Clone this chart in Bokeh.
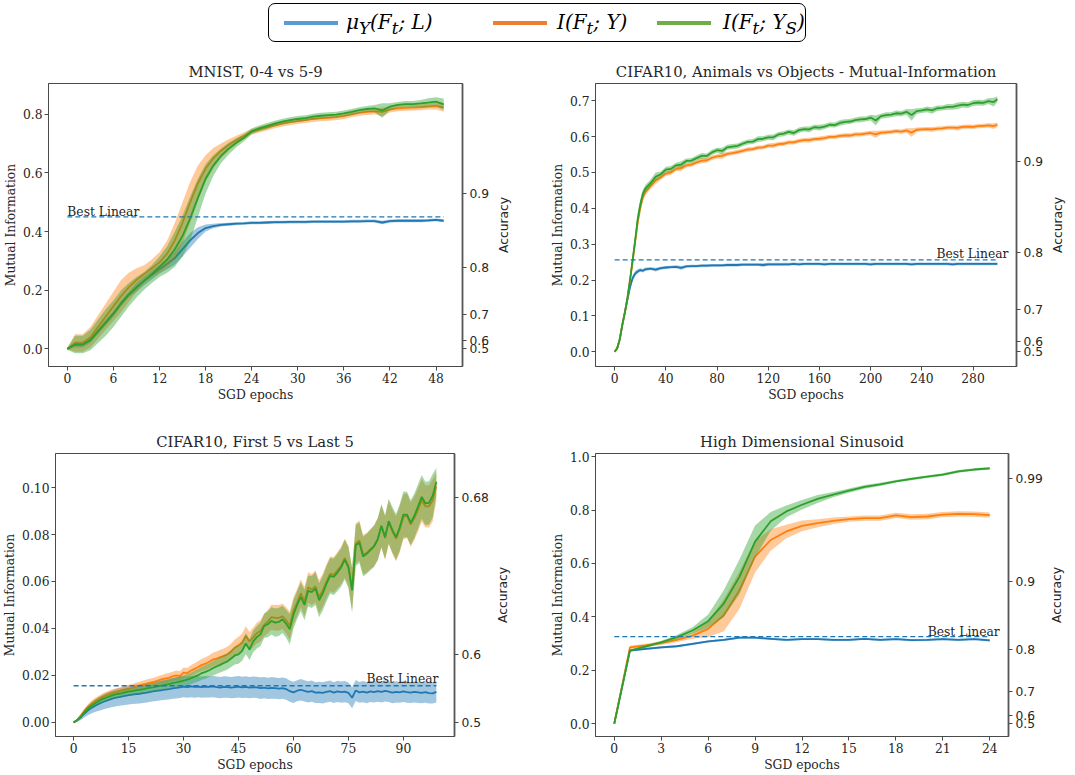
import math
import numpy as np
from bokeh.plotting import figure
from bokeh.models import (Range1d, FixedTicker, LinearAxis, CustomJSTickFormatter,
                          PrintfTickFormatter, Label, Div)
from bokeh.layouts import column, row
from bokeh.embed import file_html
from bokeh.resources import INLINE

# ---------------- data ----------------
legend_labels = ["μ<sub>Y</sub>(F<sub>t</sub>; L)", "I(F<sub>t</sub>; Y)", "I(F<sub>t</sub>; Y<sub>S</sub>)"]
legend_colors = ["#5B9BD5", "#ED7D31", "#70AD47"]

# Panel 1: MNIST, 0-4 vs 5-9
mnist_title = "MNIST, 0-4 vs 5-9"
mnist_epochs = list(range(50))
mnist_mu = [0.0, 0.015, 0.015, 0.03, 0.06, 0.09, 0.12, 0.155, 0.185, 0.21,
            0.232, 0.252, 0.272, 0.29, 0.31, 0.34, 0.37, 0.395, 0.412, 0.419,
            0.423, 0.425, 0.427, 0.428, 0.43, 0.43, 0.431, 0.432, 0.432, 0.433,
            0.433, 0.433, 0.434, 0.434, 0.434, 0.434, 0.434, 0.435, 0.435, 0.436,
            0.436, 0.431, 0.436, 0.437, 0.437, 0.437, 0.437, 0.438, 0.44, 0.437]
mnist_mu_std = [0.002, 0.01, 0.01, 0.01, 0.01, 0.01, 0.01, 0.01, 0.01, 0.015,
                0.015, 0.015, 0.015, 0.018, 0.022, 0.025, 0.025, 0.02, 0.012, 0.008,
                0.006, 0.005, 0.005, 0.005, 0.005, 0.005, 0.005, 0.005, 0.005, 0.005,
                0.005, 0.005, 0.005, 0.005, 0.005, 0.005, 0.005, 0.005, 0.005, 0.005,
                0.005, 0.006, 0.005, 0.005, 0.005, 0.005, 0.005, 0.005, 0.005, 0.005]
mnist_iy = [0.0, 0.02, 0.02, 0.04, 0.075, 0.11, 0.145, 0.18, 0.21, 0.235,
            0.255, 0.275, 0.295, 0.325, 0.37, 0.43, 0.5, 0.565, 0.615, 0.65,
            0.675, 0.695, 0.712, 0.727, 0.74, 0.748, 0.755, 0.762, 0.768, 0.773,
            0.777, 0.78, 0.784, 0.786, 0.788, 0.79, 0.794, 0.8, 0.805, 0.808,
            0.81, 0.808, 0.816, 0.82, 0.822, 0.823, 0.824, 0.826, 0.828, 0.824]
mnist_iy_std = [0.003, 0.03, 0.03, 0.035, 0.04, 0.045, 0.05, 0.055, 0.05, 0.04,
                0.03, 0.03, 0.035, 0.045, 0.06, 0.07, 0.07, 0.06, 0.045, 0.035,
                0.025, 0.02, 0.015, 0.012, 0.01, 0.01, 0.01, 0.01, 0.01, 0.01,
                0.01, 0.01, 0.01, 0.01, 0.01, 0.01, 0.01, 0.01, 0.01, 0.01,
                0.01, 0.015, 0.01, 0.01, 0.01, 0.01, 0.01, 0.01, 0.012, 0.015]
mnist_iys = [0.0, 0.015, 0.015, 0.03, 0.06, 0.09, 0.12, 0.155, 0.185, 0.21,
             0.232, 0.255, 0.28, 0.305, 0.34, 0.385, 0.445, 0.515, 0.58, 0.625,
             0.658, 0.683, 0.703, 0.72, 0.742, 0.752, 0.76, 0.768, 0.775, 0.78,
             0.784, 0.787, 0.792, 0.795, 0.797, 0.799, 0.803, 0.808, 0.814, 0.818,
             0.82, 0.813, 0.826, 0.832, 0.835, 0.835, 0.837, 0.84, 0.843, 0.834]
mnist_iys_std = [0.003, 0.03, 0.03, 0.035, 0.04, 0.045, 0.045, 0.045, 0.04, 0.035,
                 0.03, 0.03, 0.035, 0.045, 0.06, 0.07, 0.075, 0.065, 0.05, 0.035,
                 0.025, 0.02, 0.015, 0.012, 0.01, 0.01, 0.01, 0.01, 0.01, 0.01,
                 0.01, 0.01, 0.01, 0.01, 0.01, 0.01, 0.01, 0.01, 0.01, 0.01,
                 0.012, 0.025, 0.012, 0.01, 0.01, 0.01, 0.012, 0.015, 0.015, 0.02]
mnist_best_linear = 0.45
mnist_xticks = [0, 6, 12, 18, 24, 30, 36, 42, 48]
mnist_yticks = [0.0, 0.2, 0.4, 0.6, 0.8]
mnist_acc_ticks = [0.5, 0.6, 0.7, 0.8, 0.9]

# Panel 2: CIFAR10, Animals vs Objects
av_title = "CIFAR10, Animals vs Objects - Mutual-Information"
av_epochs = [0, 2, 4, 6, 8, 10, 12, 14, 16, 18, 20, 22, 24,
             28, 32, 36, 40, 44, 48, 52, 56, 60, 64, 68, 72, 76, 80, 84, 88, 92, 96,
             100, 104, 108, 112, 116, 120, 124, 128, 132, 136, 140, 144, 148, 152, 156,
             160, 164, 168, 172, 176, 180, 184, 188, 192, 196, 200, 204, 208, 212, 216,
             220, 224, 228, 232, 236, 240, 244, 248, 252, 256, 260, 264, 268, 272, 276,
             280, 284, 288, 292, 296, 299]
av_mu = [0.0, 0.01, 0.035, 0.075, 0.11, 0.145, 0.18, 0.205, 0.218, 0.224, 0.228, 0.226, 0.23,
         0.232, 0.229, 0.233, 0.235, 0.236, 0.237, 0.234, 0.238, 0.239, 0.239, 0.24, 0.24, 0.241,
         0.241, 0.241, 0.242, 0.242, 0.242, 0.243, 0.243, 0.243, 0.243, 0.242, 0.244, 0.244,
         0.244, 0.244, 0.244, 0.245, 0.244, 0.245, 0.245, 0.245, 0.245, 0.244, 0.245, 0.245,
         0.245, 0.245, 0.245, 0.245, 0.245, 0.245, 0.244, 0.245, 0.245, 0.245, 0.245, 0.245,
         0.245, 0.245, 0.244, 0.245, 0.245, 0.245, 0.245, 0.245, 0.245, 0.245, 0.244, 0.245,
         0.245, 0.245, 0.245, 0.245, 0.245, 0.245, 0.245, 0.245]
av_mu_std = [0.0, 0.003, 0.005, 0.006, 0.007, 0.008, 0.008, 0.008, 0.007, 0.006, 0.005, 0.005, 0.005,
             0.004, 0.005, 0.004, 0.004, 0.004, 0.004, 0.005, 0.004, 0.004, 0.004, 0.004, 0.004,
             0.004, 0.004, 0.004, 0.004, 0.004, 0.004, 0.004, 0.004, 0.004, 0.004, 0.005, 0.004,
             0.004, 0.004, 0.004, 0.004, 0.004, 0.004, 0.004, 0.004, 0.004, 0.004, 0.004, 0.004,
             0.004, 0.004, 0.004, 0.004, 0.004, 0.004, 0.004, 0.004, 0.004, 0.004, 0.004, 0.004,
             0.004, 0.004, 0.004, 0.004, 0.004, 0.004, 0.004, 0.004, 0.004, 0.004, 0.004, 0.004,
             0.004, 0.004, 0.004, 0.004, 0.004, 0.004, 0.004, 0.004, 0.004]
av_iy = [0.0, 0.01, 0.035, 0.075, 0.11, 0.15, 0.2, 0.25, 0.305, 0.36, 0.4, 0.43, 0.445,
         0.462, 0.478, 0.486, 0.497, 0.5, 0.51, 0.512, 0.52, 0.522, 0.528, 0.533, 0.534, 0.541,
         0.545, 0.546, 0.552, 0.554, 0.557, 0.56, 0.564, 0.565, 0.569, 0.57, 0.575, 0.575,
         0.579, 0.58, 0.584, 0.584, 0.588, 0.59, 0.59, 0.593, 0.594, 0.596, 0.599, 0.599,
         0.602, 0.603, 0.603, 0.606, 0.606, 0.608, 0.61, 0.606, 0.611, 0.612, 0.613, 0.615,
         0.614, 0.617, 0.611, 0.619, 0.62, 0.621, 0.62, 0.622, 0.623, 0.625, 0.625, 0.624,
         0.627, 0.628, 0.627, 0.629, 0.63, 0.631, 0.629, 0.633]
av_iy_std = [0.0, 0.003, 0.005, 0.007, 0.008, 0.01, 0.012, 0.014, 0.015, 0.014, 0.012, 0.01, 0.009,
             0.008, 0.01, 0.007, 0.006, 0.007, 0.006, 0.008, 0.006, 0.006, 0.006, 0.007, 0.006,
             0.006, 0.006, 0.008, 0.006, 0.006, 0.006, 0.006, 0.006, 0.006, 0.006, 0.006, 0.006,
             0.007, 0.006, 0.006, 0.006, 0.006, 0.006, 0.006, 0.007, 0.006, 0.006, 0.006, 0.006,
             0.006, 0.006, 0.006, 0.006, 0.006, 0.006, 0.006, 0.006, 0.01, 0.006, 0.006, 0.006,
             0.006, 0.006, 0.006, 0.012, 0.006, 0.006, 0.006, 0.007, 0.006, 0.006, 0.006, 0.006,
             0.007, 0.006, 0.006, 0.006, 0.006, 0.006, 0.006, 0.008, 0.006]
av_iys = [0.0, 0.01, 0.035, 0.075, 0.11, 0.15, 0.2, 0.255, 0.31, 0.37, 0.41, 0.44, 0.455,
          0.47, 0.488, 0.495, 0.508, 0.51, 0.52, 0.522, 0.532, 0.533, 0.54, 0.546, 0.546, 0.556,
          0.562, 0.56, 0.57, 0.572, 0.574, 0.58, 0.585, 0.586, 0.593, 0.594, 0.598, 0.598,
          0.606, 0.608, 0.613, 0.61, 0.618, 0.621, 0.62, 0.626, 0.625, 0.628, 0.633, 0.632,
          0.638, 0.641, 0.642, 0.646, 0.648, 0.649, 0.653, 0.645, 0.657, 0.66, 0.661, 0.665,
          0.664, 0.669, 0.66, 0.671, 0.673, 0.676, 0.673, 0.679, 0.68, 0.683, 0.683, 0.686,
          0.689, 0.688, 0.693, 0.695, 0.694, 0.699, 0.696, 0.704]
av_iys_std = [0.0, 0.003, 0.005, 0.007, 0.008, 0.01, 0.012, 0.014, 0.016, 0.016, 0.014, 0.012, 0.01,
              0.01, 0.012, 0.008, 0.008, 0.008, 0.007, 0.009, 0.007, 0.007, 0.007, 0.008, 0.007,
              0.007, 0.007, 0.009, 0.007, 0.007, 0.007, 0.007, 0.007, 0.007, 0.008, 0.007, 0.007,
              0.008, 0.007, 0.007, 0.007, 0.008, 0.007, 0.007, 0.008, 0.007, 0.008, 0.007, 0.007,
              0.007, 0.008, 0.007, 0.007, 0.007, 0.008, 0.007, 0.008, 0.014, 0.007, 0.008, 0.007,
              0.008, 0.007, 0.008, 0.016, 0.008, 0.007, 0.008, 0.009, 0.008, 0.007, 0.008, 0.008,
              0.009, 0.008, 0.008, 0.008, 0.008, 0.008, 0.008, 0.012, 0.008]
av_best_linear = 0.256
av_xticks = [0, 40, 80, 120, 160, 200, 240, 280]
av_yticks = [0.0, 0.1, 0.2, 0.3, 0.4, 0.5, 0.6, 0.7]
av_acc_ticks = [0.5, 0.6, 0.7, 0.8, 0.9]

# Panel 3: CIFAR10, First 5 vs Last 5
fl_title = "CIFAR10, First 5 vs Last 5"
fl_epochs = list(range(100))
fl_mu = [0.0, 0.001, 0.0022, 0.0038, 0.0052, 0.0063, 0.0072, 0.008, 0.0087, 0.0093,
         0.0098, 0.0103, 0.0107, 0.011, 0.0113, 0.0116, 0.0118, 0.012, 0.0122, 0.0125,
         0.0127, 0.013, 0.0133, 0.0135, 0.0137, 0.014, 0.0142, 0.0145, 0.0147, 0.0149,
         0.0152, 0.015, 0.0153, 0.0151, 0.0152, 0.015, 0.0152, 0.0151, 0.0153, 0.015,
         0.0148, 0.0151, 0.015, 0.0148, 0.015, 0.0152, 0.0149, 0.0151, 0.0148, 0.015,
         0.0149, 0.0146, 0.0148, 0.0145, 0.0147, 0.0146, 0.0144, 0.0146, 0.0142, 0.0133,
         0.0128, 0.0135, 0.0139, 0.0134, 0.013, 0.0133, 0.0127, 0.0128, 0.0126, 0.013,
         0.0133, 0.0127, 0.0132, 0.0129, 0.0131, 0.0126, 0.0105, 0.0136, 0.0128, 0.0131,
         0.0127, 0.0132, 0.0129, 0.0133, 0.013, 0.0134, 0.0131, 0.0127, 0.013, 0.0128,
         0.0132, 0.0129, 0.0127, 0.013, 0.0128, 0.0126, 0.0129, 0.0125, 0.0124, 0.013]
fl_mu_std = [0.0003, 0.0007, 0.0012, 0.0016, 0.002, 0.0024, 0.0027, 0.003, 0.0032, 0.0034,
             0.0035, 0.0036, 0.0037, 0.0038, 0.0039, 0.004, 0.004, 0.0041, 0.0041, 0.0042,
             0.0042, 0.0042, 0.0043, 0.0043, 0.0043, 0.0044, 0.0044, 0.0044, 0.0045, 0.0045,
             0.0045, 0.0045, 0.0046, 0.0046, 0.0045, 0.0045, 0.0046, 0.0045, 0.0046, 0.0045,
             0.0045, 0.0046, 0.0045, 0.0045, 0.0046, 0.0046, 0.0045, 0.0046, 0.0045, 0.0045,
             0.0045, 0.0046, 0.0045, 0.0045, 0.0046, 0.0045, 0.0045, 0.0045, 0.0046, 0.0045,
             0.0045, 0.0045, 0.0046, 0.0045, 0.0045, 0.0045, 0.0044, 0.0045, 0.0045, 0.0045,
             0.0045, 0.0044, 0.0045, 0.0045, 0.0045, 0.0044, 0.0045, 0.0045, 0.0044, 0.0045,
             0.0045, 0.0045, 0.0044, 0.0045, 0.0045, 0.0045, 0.0044, 0.0045, 0.0045, 0.0044,
             0.0045, 0.0045, 0.0044, 0.0045, 0.0045, 0.0044, 0.0045, 0.0044, 0.0044, 0.0045]
fl_iy = [0.0, 0.001, 0.003, 0.005, 0.0068, 0.0082, 0.0093, 0.0102, 0.011, 0.0117,
         0.0123, 0.0128, 0.0132, 0.0136, 0.014, 0.0144, 0.0148, 0.0152, 0.0157, 0.0161,
         0.0165, 0.0169, 0.0173, 0.0178, 0.0183, 0.0187, 0.019, 0.0196, 0.02, 0.0197,
         0.0212, 0.021, 0.022, 0.0228, 0.0236, 0.0245, 0.025, 0.0258, 0.0268, 0.0272,
         0.0278, 0.0283, 0.029, 0.0302, 0.0318, 0.0328, 0.034, 0.0368, 0.0345, 0.0362,
         0.038, 0.039, 0.0415, 0.043, 0.0448, 0.0445, 0.0445, 0.0452, 0.0435, 0.0412,
         0.0475, 0.051, 0.055, 0.0515, 0.0575, 0.0565, 0.058, 0.0535, 0.0562, 0.06,
         0.0632, 0.0628, 0.0648, 0.0668, 0.07, 0.0665, 0.0568, 0.0762, 0.0775, 0.0715,
         0.0722, 0.0738, 0.0752, 0.078, 0.0835, 0.0785, 0.0852, 0.0812, 0.0782, 0.0822,
         0.0875, 0.088, 0.0842, 0.087, 0.0905, 0.0945, 0.092, 0.092, 0.0945, 0.1005]
fl_iy_std = [0.0003, 0.0006, 0.0008, 0.001, 0.0011, 0.0012, 0.0013, 0.0013, 0.0014, 0.0014,
             0.0015, 0.0015, 0.0015, 0.0016, 0.0016, 0.0016, 0.0016, 0.0017, 0.0017, 0.0017,
             0.0018, 0.0018, 0.0018, 0.0019, 0.0019, 0.002, 0.002, 0.002, 0.0021, 0.0021,
             0.0022, 0.0022, 0.0023, 0.0024, 0.0025, 0.0026, 0.0027, 0.0028, 0.0029, 0.003,
             0.0031, 0.0032, 0.0033, 0.0034, 0.0035, 0.0037, 0.0039, 0.0041, 0.004, 0.0042,
             0.0044, 0.0046, 0.0048, 0.005, 0.0053, 0.0055, 0.0055, 0.0054, 0.0056, 0.006,
             0.0058, 0.0058, 0.006, 0.0062, 0.0064, 0.0066, 0.0068, 0.007, 0.0071, 0.0073,
             0.0074, 0.0076, 0.0078, 0.008, 0.0083, 0.0086, 0.009, 0.0086, 0.0085, 0.0084,
             0.0084, 0.0085, 0.0087, 0.0088, 0.009, 0.0092, 0.0093, 0.0095, 0.0096, 0.0097,
             0.0096, 0.0095, 0.0094, 0.0093, 0.0092, 0.0091, 0.009, 0.009, 0.009, 0.006]
fl_iys = [0.0, 0.001, 0.0025, 0.0045, 0.006, 0.0072, 0.0083, 0.0092, 0.01, 0.0106,
          0.0112, 0.0117, 0.0121, 0.0124, 0.0128, 0.0131, 0.0133, 0.0136, 0.0139, 0.0142,
          0.0145, 0.0148, 0.015, 0.0153, 0.0157, 0.016, 0.0163, 0.0167, 0.017, 0.0174,
          0.0178, 0.0182, 0.0188, 0.0195, 0.0201, 0.021, 0.0215, 0.0222, 0.0231, 0.0238,
          0.0245, 0.0253, 0.026, 0.0272, 0.0285, 0.029, 0.0305, 0.0336, 0.031, 0.0345,
          0.0363, 0.0375, 0.0411, 0.0418, 0.0432, 0.0425, 0.0428, 0.0439, 0.042, 0.0397,
          0.046, 0.05, 0.0535, 0.05, 0.056, 0.0555, 0.057, 0.052, 0.055, 0.059,
          0.0624, 0.062, 0.0638, 0.066, 0.0693, 0.066, 0.0562, 0.0754, 0.0765, 0.0706,
          0.0718, 0.0734, 0.075, 0.078, 0.0837, 0.0789, 0.0857, 0.082, 0.0789, 0.083,
          0.0885, 0.0885, 0.085, 0.088, 0.092, 0.096, 0.0933, 0.0935, 0.0965, 0.1025]
fl_iys_std = [0.0003, 0.0006, 0.0008, 0.001, 0.0011, 0.0012, 0.0013, 0.0013, 0.0014, 0.0014,
              0.0015, 0.0015, 0.0015, 0.0016, 0.0016, 0.0016, 0.0016, 0.0017, 0.0017, 0.0017,
              0.0018, 0.0018, 0.0018, 0.0019, 0.0019, 0.002, 0.002, 0.0021, 0.0022, 0.0022,
              0.0023, 0.0024, 0.0025, 0.0026, 0.0027, 0.0028, 0.0029, 0.003, 0.0031, 0.0032,
              0.0033, 0.0034, 0.0035, 0.0036, 0.0038, 0.004, 0.0042, 0.0045, 0.0044, 0.0046,
              0.0048, 0.005, 0.0052, 0.0055, 0.0058, 0.006, 0.006, 0.0058, 0.006, 0.0065,
              0.006, 0.006, 0.0062, 0.0065, 0.0066, 0.0068, 0.007, 0.0072, 0.0073, 0.0075,
              0.0076, 0.0078, 0.008, 0.0082, 0.0085, 0.0088, 0.0095, 0.0088, 0.0086, 0.0085,
              0.0085, 0.0086, 0.0088, 0.009, 0.0092, 0.0094, 0.0095, 0.0097, 0.0098, 0.01,
              0.0098, 0.0097, 0.0096, 0.0095, 0.0094, 0.0093, 0.0092, 0.0092, 0.0093, 0.0058]
fl_best_linear = 0.0156
fl_xticks = [0, 15, 30, 45, 60, 75, 90]
fl_yticks = [0.0, 0.02, 0.04, 0.06, 0.08, 0.10]
fl_acc_ticks = [0.5, 0.6, 0.68]

# Panel 4: High Dimensional Sinusoid
sin_title = "High Dimensional Sinusoid"
sin_epochs = list(range(25))
sin_mu = [0.0, 0.274, 0.28, 0.286, 0.29, 0.299, 0.308, 0.314, 0.322, 0.322, 0.318, 0.314, 0.317,
          0.317, 0.314, 0.314, 0.318, 0.314, 0.317, 0.313, 0.314, 0.317, 0.314, 0.317, 0.312]
sin_mu_std = [0.0, 0.004, 0.004, 0.004, 0.004, 0.004, 0.004, 0.004, 0.004, 0.004, 0.004, 0.004,
              0.004, 0.004, 0.004, 0.004, 0.004, 0.004, 0.004, 0.004, 0.004, 0.004, 0.004, 0.004, 0.004]
sin_iy = [0.0, 0.286, 0.293, 0.302, 0.314, 0.33, 0.355, 0.406, 0.5, 0.626, 0.688, 0.72, 0.741,
          0.751, 0.76, 0.766, 0.77, 0.77, 0.78, 0.774, 0.776, 0.783, 0.786, 0.785, 0.781]
sin_iy_std = [0.0, 0.006, 0.006, 0.007, 0.008, 0.012, 0.03, 0.06, 0.07, 0.06, 0.04, 0.025, 0.02,
              0.015, 0.012, 0.01, 0.01, 0.01, 0.01, 0.01, 0.01, 0.01, 0.01, 0.01, 0.01]
sin_iys = [0.0, 0.274, 0.289, 0.305, 0.324, 0.349, 0.384, 0.45, 0.55, 0.682, 0.758, 0.795, 0.82,
           0.842, 0.858, 0.873, 0.887, 0.896, 0.908, 0.917, 0.925, 0.933, 0.945, 0.952, 0.956]
sin_iys_std = [0.0, 0.004, 0.005, 0.006, 0.008, 0.012, 0.025, 0.05, 0.065, 0.06, 0.035, 0.022, 0.018,
               0.015, 0.01, 0.008, 0.007, 0.006, 0.005, 0.005, 0.005, 0.005, 0.005, 0.005, 0.005]
sin_best_linear = 0.326
sin_xticks = [0, 3, 6, 9, 12, 15, 18, 21, 24]
sin_yticks = [0.0, 0.2, 0.4, 0.6, 0.8, 1.0]
sin_acc_ticks = [0.5, 0.6, 0.7, 0.8, 0.9, 0.99]

# ---------------- styling ----------------
SERIF = "DejaVu Serif"
SANS = "DejaVu Sans"
TXT = "#262626"
SPINE = "#4a4a4a"
COLORS = ["#1f77b4", "#ff7f0e", "#2ca02c"]
FS = "12.3px"


def acc_to_mi(a):
    # binary classifier accuracy -> mutual information (1 - binary entropy)
    return 1.0 + a * math.log2(a) + (1 - a) * math.log2(1 - a)


def make_panel(title, x, means, stds, best, xr, yr, xticks, yticks, yfmt, acc_ticks,
               width, height, borders, bl_align, bl_xoff, bl_yoff):
    p = figure(width=width, height=height, x_range=Range1d(*xr), y_range=Range1d(*yr),
               output_backend="svg", toolbar_location=None,
               min_border_left=borders[0], min_border_right=borders[1],
               min_border_top=borders[2], min_border_bottom=borders[3])
    p.title.text = title
    p.title.text_font = SERIF
    p.title.text_font_size = "14.8px"
    p.title.text_font_style = "normal"
    p.title.text_color = TXT
    p.title.align = "center"
    p.title.standoff = 8
    p.grid.visible = False
    p.outline_line_color = SPINE
    p.outline_line_width = 1
    p.background_fill_color = "white"
    p.border_fill_color = "white"

    xa = np.array(x, dtype=float)
    for m, s, c in zip(means, stds, COLORS):
        m = np.array(m)
        s = np.array(s)
        p.varea(x=xa, y1=m - s, y2=m + s, fill_color=c, fill_alpha=0.42)
        p.line(xa, m, line_color=c, line_width=1.8)

    p.line([xa[0], xa[-1]], [best, best], line_color=COLORS[0], line_width=1.3,
           line_dash="5 3")
    lx = xa[0] if bl_align == "left" else xa[-1]
    p.add_layout(Label(x=lx, y=best, text="Best Linear", text_font=SERIF,
                       text_font_size=FS, text_color=TXT, text_align=bl_align,
                       text_baseline="alphabetic", x_offset=bl_xoff, y_offset=bl_yoff))

    for ax in (p.xaxis[0], p.yaxis[0]):
        ax.major_label_text_font = SERIF
        ax.major_label_text_font_size = FS
        ax.major_label_text_color = TXT
        ax.axis_label_text_font = SERIF
        ax.axis_label_text_font_size = FS
        ax.axis_label_text_font_style = "normal"
        ax.axis_label_text_color = TXT
        ax.axis_line_color = SPINE
        ax.major_tick_line_color = SPINE
        ax.major_tick_out = 4
        ax.major_tick_in = 0
        ax.minor_tick_out = 0
        ax.minor_tick_in = 0
        ax.major_label_standoff = 2
        ax.axis_label_standoff = 2
    p.xaxis[0].ticker = FixedTicker(ticks=xticks)
    p.xaxis[0].axis_label = "SGD epochs"
    p.yaxis[0].ticker = FixedTicker(ticks=yticks)
    p.yaxis[0].formatter = PrintfTickFormatter(format=yfmt)
    p.yaxis[0].axis_label = "Mutual Information"

    pos = [acc_to_mi(a) for a in acc_ticks]
    labels = [("%g" % a) for a in acc_ticks]
    fmt = CustomJSTickFormatter(args=dict(pos=pos, labels=labels), code="""
        let best = 0;
        for (let i = 0; i < pos.length; i++) {
            if (Math.abs(pos[i] - tick) < Math.abs(pos[best] - tick)) { best = i; }
        }
        return labels[best];
    """)
    ra = LinearAxis(ticker=FixedTicker(ticks=pos), formatter=fmt)
    ra.major_label_text_font = SANS
    ra.major_label_text_font_size = FS
    ra.major_label_text_color = TXT
    ra.axis_line_color = "#555555"
    ra.axis_line_width = 1.8
    ra.major_tick_line_color = SPINE
    ra.major_tick_out = 4
    ra.major_tick_in = 0
    ra.minor_tick_out = 0
    ra.minor_tick_in = 0
    ra.major_label_standoff = 3
    p.add_layout(ra, "right")
    return p


def make_acc_label(width, height, top, bottom, cx):
    # narrow strip holding the twin axis title "Accuracy", read bottom-to-top
    q = figure(width=width, height=height, x_range=Range1d(0, width), y_range=Range1d(0, 1),
               output_backend="svg", toolbar_location=None,
               x_axis_location=None, y_axis_location=None,
               min_border_left=0, min_border_right=0,
               min_border_top=top, min_border_bottom=bottom)
    q.grid.visible = False
    q.outline_line_color = None
    q.background_fill_color = "white"
    q.border_fill_color = "white"
    q.add_layout(Label(x=cx, y=0.5, text="Accuracy", text_font=SANS, text_font_size=FS,
                       text_color=TXT, text_align="center", text_baseline="middle",
                       angle=math.pi / 2))
    return q


H1, H2 = 365, 365

p1 = make_panel(mnist_title, mnist_epochs, [mnist_mu, mnist_iy, mnist_iys],
                [mnist_mu_std, mnist_iy_std, mnist_iys_std], mnist_best_linear,
                (-2.45, 51.45), (-0.06, 0.905), mnist_xticks, mnist_yticks, "%.1f",
                mnist_acc_ticks, 493, H1, (45, 31, 39, 43), "left", 0, 5)
a1 = make_acc_label(44, H1, 39, 43, 10)
p2 = make_panel(av_title, av_epochs, [av_mu, av_iy, av_iys],
                [av_mu_std, av_iy_std, av_iys_std], av_best_linear,
                (-14.95, 313.95), (-0.041, 0.748), av_xticks, av_yticks, "%.1f",
                av_acc_ticks, 510, H1, (58, 31, 39, 43), "right", 11, 6)
a2 = make_acc_label(26, H1, 39, 43, 10)
p3 = make_panel(fl_title, fl_epochs, [fl_mu, fl_iy, fl_iys],
                [fl_mu_std, fl_iy_std, fl_iys_std], fl_best_linear,
                (-4.95, 103.95), (-0.006, 0.1145), fl_xticks, fl_yticks, "%.2f",
                fl_acc_ticks, 491, H2, (53, 36, 44, 38), "right", 2, 7)
a3 = make_acc_label(46, H2, 44, 38, 11)
p4 = make_panel(sin_title, sin_epochs, [sin_mu, sin_iy, sin_iys],
                [sin_mu_std, sin_iy_std, sin_iys_std], sin_best_linear,
                (-1.2, 25.2), (-0.048, 1.012), sin_xticks, sin_yticks, "%.1f",
                sin_acc_ticks, 508, H2, (58, 36, 44, 38), "right", 10, 5)
a4 = make_acc_label(28, H2, 44, 38, 11)

# ---------------- legend (HTML text box) ----------------
line_lefts = [15, 224, 388]
text_lefts = [77, 288, 454]
items = ""
for lab, col, ll, tl in zip(legend_labels, legend_colors, line_lefts, text_lefts):
    items += ('<span style="position:absolute;left:%dpx;top:17px;width:54px;height:4px;'
              'background:%s;"></span>' % (ll, col))
    items += ('<span style="position:absolute;left:%dpx;top:5px;line-height:26px;'
              'white-space:nowrap;">%s</span>' % (tl, lab))
legend_html = ('<div style="position:relative;margin-left:268px;margin-top:3px;width:538px;height:39px;'
               'box-sizing:border-box;border:1px solid #000;border-radius:7px;background:#fff;'
               "font-family:'DejaVu Serif',serif;font-style:italic;font-size:20px;color:#000;\">"
               + items + '</div>')
legend_div = Div(text=legend_html, width=1073, height=44, margin=(0, 0, 0, 0))

layout = column(legend_div, row(p1, a1, p2, a2), row(p3, a3, p4, a4))

open("out.html", "w").write(file_html(layout, INLINE))
